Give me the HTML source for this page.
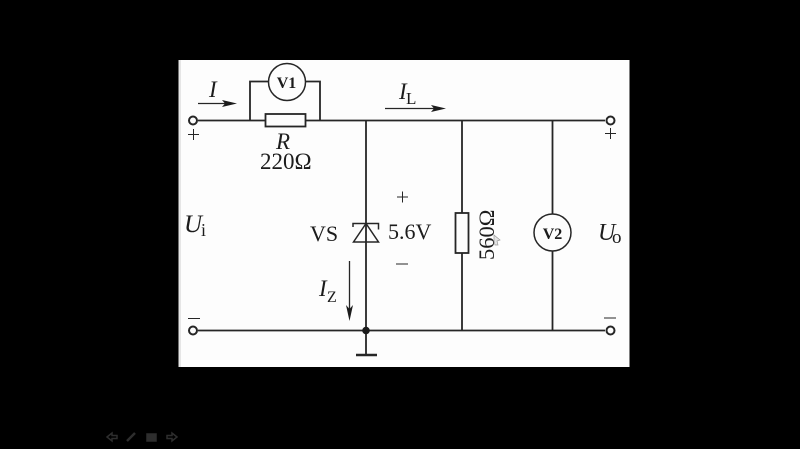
<!DOCTYPE html>
<html>
<head>
<meta charset="utf-8">
<style>
html,body{margin:0;padding:0;background:#000;width:800px;height:449px;overflow:hidden}
svg{display:block;filter:blur(0.3px)}
text{font-family:"Liberation Serif",serif;fill:#1c1c1c}
</style>
</head>
<body>
<svg width="800" height="449" viewBox="0 0 800 449" xmlns="http://www.w3.org/2000/svg">
<rect x="178.500" y="60" width="451" height="307" fill="#fdfdfd"/>
<rect x="178.500" y="60" width="2.500" height="307" fill="#e6e6e6"/>
<g fill="none" stroke="#262626" stroke-width="1.800">
<!-- main wires -->
<line x1="198" y1="120.500" x2="265" y2="120.500"/>
<line x1="306" y1="120.500" x2="605" y2="120.500"/>
<line x1="198" y1="330.500" x2="605" y2="330.500"/>
<!-- V1 bypass -->
<polyline points="250,120 250,81.500 268.500,81.500"/>
<polyline points="305.500,81.500 320,81.500 320,120"/>
<circle cx="287" cy="82" r="18.500" stroke-width="1.500"/>
<rect x="265.500" y="114" width="40" height="12.500"/>
<!-- zener branch -->
<line x1="366" y1="120" x2="366" y2="355"/>
<polygon points="366,223.500 353.500,242 378.500,242" stroke-width="1.500"/>
<polyline points="353,227 353,223.500 378.500,223.500 378.500,229.500" stroke-width="1.500"/>
<line x1="356" y1="355" x2="377" y2="355" stroke-width="2.400"/>
<!-- 560 ohm branch -->
<line x1="462" y1="120" x2="462" y2="213"/>
<line x1="462" y1="253" x2="462" y2="330"/>
<rect x="455.500" y="213" width="13" height="40"/>
<!-- V2 branch -->
<line x1="552.500" y1="120" x2="552.500" y2="214"/>
<line x1="552.500" y1="251" x2="552.500" y2="330"/>
<circle cx="552.500" cy="232.500" r="18.500" stroke-width="1.500"/>
<!-- terminals -->
<circle cx="193" cy="120.500" r="4" stroke-width="2"/>
<circle cx="193" cy="330.500" r="4" stroke-width="2"/>
<circle cx="610.500" cy="120.500" r="4" stroke-width="2"/>
<circle cx="610.500" cy="330.500" r="4" stroke-width="2"/>
<!-- terminal signs -->
<g stroke-width="1">
<line x1="188" y1="134.500" x2="199" y2="134.500"/><line x1="193.500" y1="129" x2="193.500" y2="140"/>
<line x1="605" y1="133.500" x2="616" y2="133.500"/><line x1="610.500" y1="128" x2="610.500" y2="139"/>
<line x1="188" y1="318.500" x2="200" y2="318.500"/>
<line x1="604" y1="318" x2="616" y2="318"/>
<line x1="397" y1="197" x2="408" y2="197"/><line x1="402.500" y1="191.500" x2="402.500" y2="202.500"/>
<line x1="396" y1="264" x2="408" y2="264"/>
</g>
<!-- current arrows -->
<line x1="198" y1="103.500" x2="228" y2="103.500" stroke-width="1.300"/>
<line x1="385" y1="108.500" x2="436" y2="108.500" stroke-width="1.300"/>
<line x1="349.500" y1="261" x2="349.500" y2="310" stroke-width="1.300"/>
</g>
<g fill="#1c1c1c">
<circle cx="366" cy="330.500" r="3.800"/>
<polygon points="237,103.500 222,100 225,103.500 222,107"/>
<polygon points="446,108.500 431,105 434,108.500 431,112"/>
<polygon points="349.500,321 346,305 349.500,309 353,305"/>
</g>
<!-- labels -->
<text x="286.500" y="88" font-size="16" font-weight="bold" text-anchor="middle">V1</text>
<text x="552.500" y="239" font-size="16" font-weight="bold" text-anchor="middle">V2</text>
<text x="209" y="97" font-size="23" font-style="italic">I</text>
<text x="399" y="99" font-size="23" font-style="italic">I</text>
<text x="406" y="104" font-size="17">L</text>
<text x="276" y="149" font-size="23" font-style="italic">R</text>
<text x="260" y="169" font-size="23">220Ω</text>
<text x="184" y="232" font-size="25" font-style="italic">U</text>
<text x="201" y="236" font-size="18">i</text>
<text x="310" y="241" font-size="22">VS</text>
<text x="388" y="239" font-size="22">5.6V</text>
<text x="319" y="296" font-size="23" font-style="italic">I</text>
<text x="327" y="302" font-size="16">Z</text>
<text x="598" y="240" font-size="24" font-style="italic">U</text>
<text x="612" y="243" font-size="19">o</text>
<text transform="translate(494,260) rotate(-90)" font-size="22.500">560Ω</text>
<!-- cursor -->
<polygon points="494,235 500,240 497,241 498,245 495,245 494,241" fill="#e4e4e4" stroke="#999" stroke-width="0.700"/>
<!-- slide controls -->
<g fill="none" stroke="#2e2e2e" stroke-width="1.500">
<polygon points="107,437 112,433 112,435.500 117,435.500 117,438.500 112,438.500 112,441"/>
<line x1="127" y1="441" x2="135" y2="433" stroke-width="2.500"/>
<rect x="147" y="434" width="9" height="7" fill="#2e2e2e"/>
<polygon points="177,437 172,433 172,435.500 167,435.500 167,438.500 172,438.500 172,441"/>
</g>
</svg>
</body>
</html>
